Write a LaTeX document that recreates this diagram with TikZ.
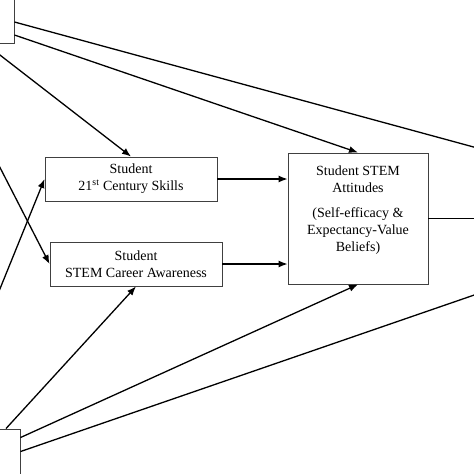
\documentclass[tikz,border=0pt]{standalone}
\usepackage{fontspec}
\setmainfont{Liberation Serif}
\usetikzlibrary{arrows.meta}

\begin{document}
\begin{tikzpicture}[x=1pt,y=-1pt,
		box/.style={draw=black!75, line width=0.9pt, align=center, inner sep=2pt,
			font=\fontsize{14}{17}\selectfont},
		arr/.style={line width=1.3pt, -{Latex[length=9pt,width=7pt]}}]
		% Visible part of the whole model
		\useasboundingbox (0,0) rectangle (474,474);
		\clip (0,0) rectangle (474,474);
		
		% Boxes that are only partly in view
		\node[box, minimum width=94pt, minimum height=63pt] (topsrc) at (-33,11.5) {};
		\node[box, minimum width=80pt, minimum height=91pt] (botsrc) at (-20,474.5) {};
		\node[box, minimum width=85pt, minimum height=160pt] (outcome) at (537.5,220) {};
		\coordinate (leftA) at (-20,128.6);
		\coordinate (leftB) at (-20,338);
		
		% Mediators
		\node[box, minimum width=172pt, minimum height=44pt] (skills) at (131,179)
			{Student\\21\textsuperscript{st} Century Skills};
		\node[box, minimum width=172pt, minimum height=44pt] (career) at (136,264)
			{Student\\STEM Career Awareness};
		\node[box, minimum width=140pt, minimum height=131pt, text depth=20pt] (attitudes) at (358,218.5)
			{Student STEM\\Attitudes\\[8pt](Self-efficacy \&\\Expectancy-Value\\Beliefs)};
		
		% Paths
		\draw[arr] ([yshift=-10.5pt]topsrc.east) -- ([yshift=67.3pt]outcome.west);
		\draw[arr] ([yshift=-23.5pt]topsrc.east) -- (attitudes.north);
		\draw[arr] ([xshift=18pt]topsrc.south) -- (skills.north);
		\draw[arr] (leftA) -- (career.west);
		\draw[arr] (leftB) -- (skills.west);
		\draw[arr] (skills.east) -- (skills.east -| attitudes.west);
		\draw[arr] (career.east) -- (career.east -| attitudes.west);
		\draw[arr] (attitudes.east) -- (attitudes.east -| outcome.west);
		\draw[arr] ([xshift=26pt]botsrc.north) -- (career.south);
		\draw[arr] ([yshift=-9pt]botsrc.north east) -- (attitudes.south);
		\draw[arr] ([yshift=-23pt]botsrc.north east) -- ([yshift=-68pt]outcome.west);
	\end{tikzpicture}
\end{document}
